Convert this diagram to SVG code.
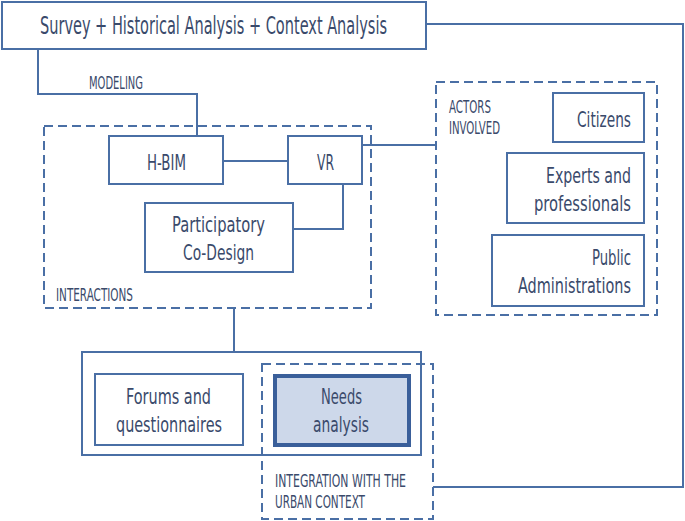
<svg xmlns="http://www.w3.org/2000/svg" width="685" height="521" viewBox="0 0 685 521">
<style>
.box{fill:#fff;stroke:#4a6fa5;stroke-width:2}
.dash{fill:none;stroke:#4a6fa5;stroke-width:2;stroke-dasharray:9,5}
.ln{fill:none;stroke:#4a6fa5;stroke-width:2}
text{font-family:"DejaVu Sans Condensed","Liberation Sans Narrow","DejaVu Sans",sans-serif;fill:#3a4a6b}
.t{font-size:21px}
.s{font-size:17px}
</style>
<rect width="685" height="521" fill="#fff"/>
<g id="connectors">
<polyline class="ln" points="38,49 38,94 197,94 197,136"/>
<line class="ln" x1="223" y1="161" x2="288" y2="161"/>
<line class="ln" x1="362" y1="145" x2="437" y2="145"/>
<polyline class="ln" points="343,184 343,229 293,229"/>
<line class="ln" x1="234" y1="308" x2="234" y2="352"/>
<polyline class="ln" points="426,24 683,24 683,487 433,487"/>
<text class="s" x="89" y="89" textLength="54" lengthAdjust="spacingAndGlyphs">MODELING</text>
</g>
<g id="interactions">
<rect class="dash" x="44" y="126" width="327" height="182"/>
<text class="s" x="56" y="301" textLength="77" lengthAdjust="spacingAndGlyphs">INTERACTIONS</text>
</g>
<g id="actors">
<rect class="dash" x="436" y="82" width="221" height="233"/>
<text class="s" x="449" y="113" textLength="42" lengthAdjust="spacingAndGlyphs">ACTORS</text>
<text class="s" x="449" y="134" textLength="51" lengthAdjust="spacingAndGlyphs">INVOLVED</text>
</g>
<g id="top">
<rect class="box" x="2" y="2" width="424" height="47"/>
<text x="40" y="34" style="font-size:24px" textLength="347" lengthAdjust="spacingAndGlyphs">Survey  + Historical  Analysis  + Context  Analysis</text>
</g>
<g id="hbim">
<rect class="box" x="109" y="136" width="114" height="48"/>
<text class="t" x="147" y="170" textLength="39" lengthAdjust="spacingAndGlyphs">H-BIM</text>
</g>
<g id="vr">
<rect class="box" x="288" y="136" width="74" height="48"/>
<text class="t" x="317" y="170" textLength="17" lengthAdjust="spacingAndGlyphs">VR</text>
</g>
<g id="codesign">
<rect class="box" x="145" y="203" width="148" height="69"/>
<text class="t" x="172" y="232" textLength="93" lengthAdjust="spacingAndGlyphs">Participatory</text>
<text class="t" x="183" y="260" textLength="71" lengthAdjust="spacingAndGlyphs">Co-Design</text>
</g>
<g id="citizens">
<rect class="box" x="553" y="93" width="91" height="49"/>
<text class="t" x="577" y="127" textLength="54" lengthAdjust="spacingAndGlyphs">Citizens</text>
</g>
<g id="experts">
<rect class="box" x="507" y="153" width="137" height="70"/>
<text class="t" x="546" y="183" textLength="85" lengthAdjust="spacingAndGlyphs">Experts  and</text>
<text class="t" x="534" y="211" textLength="97" lengthAdjust="spacingAndGlyphs">professionals</text>
</g>
<g id="public">
<rect class="box" x="492" y="235" width="152" height="71"/>
<text class="t" x="592" y="265" textLength="39" lengthAdjust="spacingAndGlyphs">Public</text>
<text class="t" x="518" y="293" textLength="113" lengthAdjust="spacingAndGlyphs">Administrations</text>
</g>
<g id="bottom">
<rect class="box" x="82" y="352" width="339" height="103"/>
</g>
<g id="forums">
<rect class="box" x="95" y="374" width="148" height="71"/>
<text class="t" x="126" y="404" textLength="85" lengthAdjust="spacingAndGlyphs">Forums  and</text>
<text class="t" x="116" y="432" textLength="106" lengthAdjust="spacingAndGlyphs">questionnaires</text>
</g>
<g id="needs">
<rect x="275" y="376" width="134" height="69" fill="#cdd8ea" stroke="#3a5f9a" stroke-width="4"/>
<text class="t" x="321" y="404" textLength="41" lengthAdjust="spacingAndGlyphs">Needs</text>
<text class="t" x="313" y="432" textLength="56" lengthAdjust="spacingAndGlyphs">analysis</text>
</g>
<g id="integration">
<rect class="dash" x="262" y="364" width="171" height="155"/>
<text class="s" x="275" y="487" textLength="131" lengthAdjust="spacingAndGlyphs">INTEGRATION  WITH  THE</text>
<text class="s" x="275" y="508" textLength="90" lengthAdjust="spacingAndGlyphs">URBAN  CONTEXT</text>
</g>
</svg>
